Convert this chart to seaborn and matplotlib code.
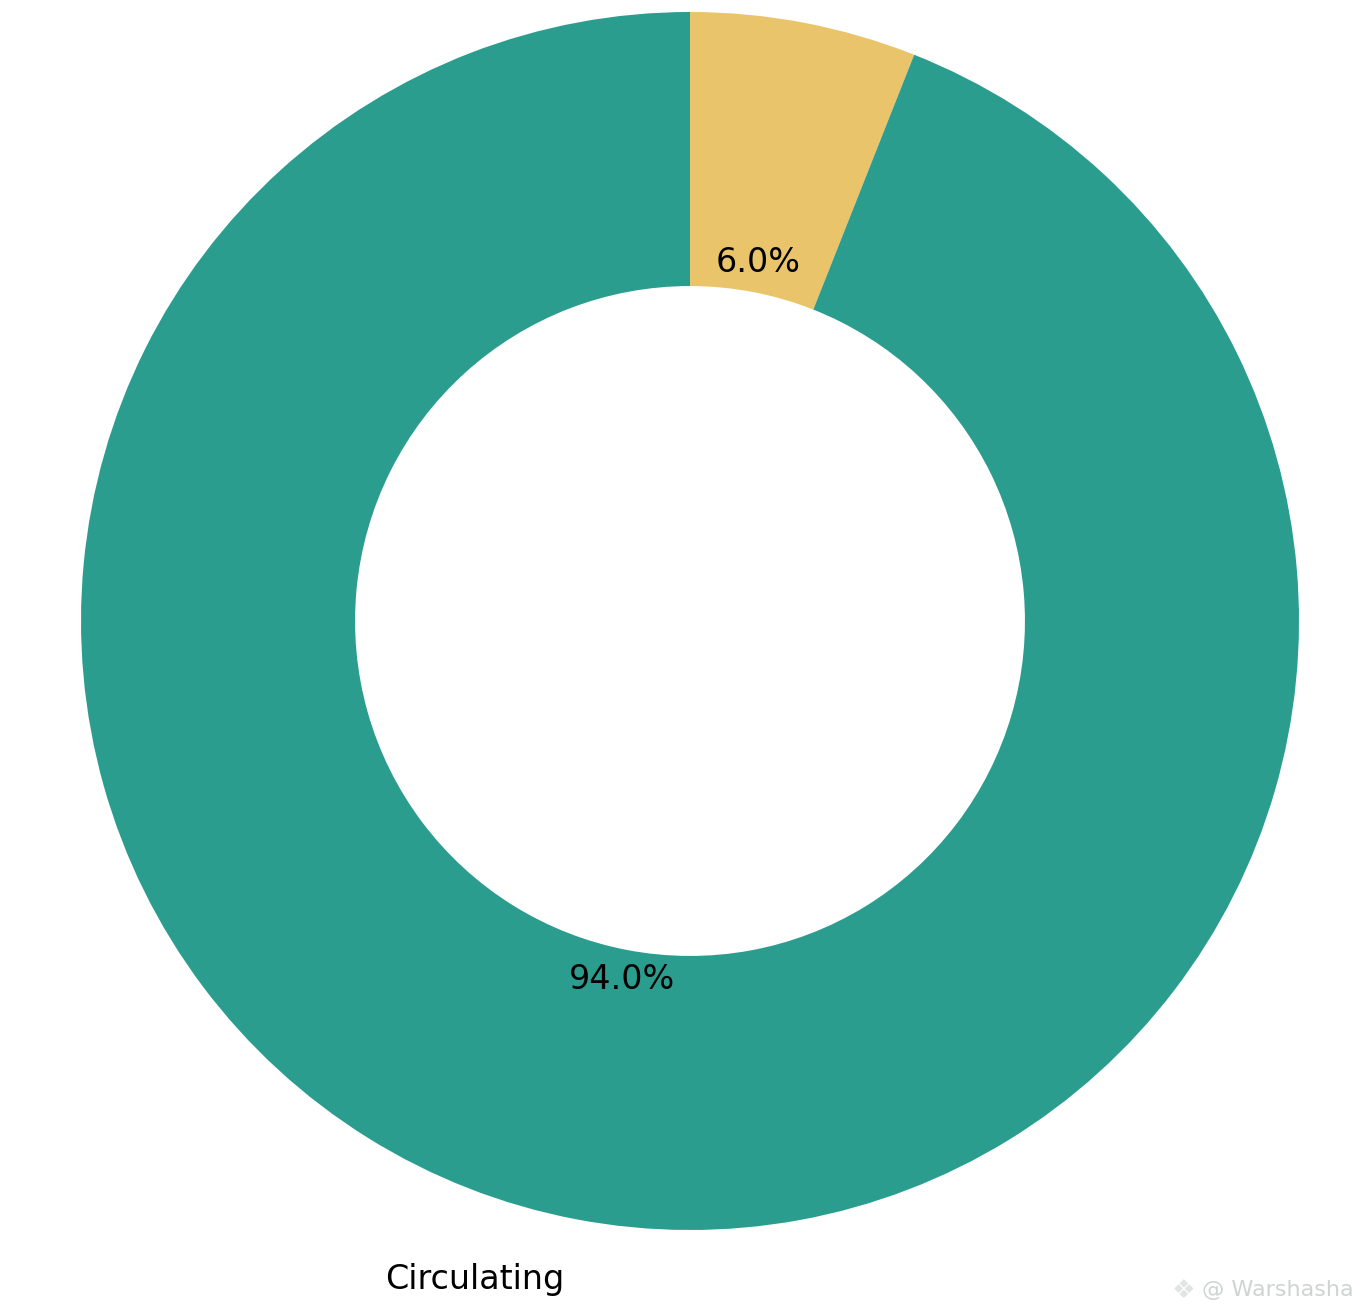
import matplotlib
matplotlib.use("Agg")
import matplotlib.pyplot as plt
import seaborn as sns

labels = ["", "Circulating"]
values = [6.0, 94.0]
colors = ["#E9C46A", "#2A9D8F"]

sns.set_theme(style="white")
plt.rcParams['font.family'] = ['DejaVu Sans']
W, H = 1361, 1315
fig = plt.figure(figsize=(W/100, H/100), dpi=100)
cx, cy, r = 690, 621, 609
ax = fig.add_axes([(cx-r)/W, 1-(cy+r)/H, 2*r/W, 2*r/H])
wedges, texts, autotexts = ax.pie(
    values, labels=labels, colors=colors, startangle=90, counterclock=False,
    autopct='%1.1f%%', pctdistance=0.6, labeldistance=1.1, radius=1,
    wedgeprops=dict(width=0.45, edgecolor='none'),
    textprops=dict(fontsize=24, color='black'))
ax.set_xlim(-1, 1)
ax.set_ylim(-1, 1)
for t in texts + autotexts:
    t.set_clip_on(False)
fig.text(1 - 7/W, 1-1290/H, "@ Warshasha", ha='right', va='center', fontsize=16, color='#cfd3d2')
fig.text(1184/W, 1-1291/H, "\u2756", ha='center', va='center', fontsize=19, color='#dfe5e3')
fig.savefig("out.png", dpi=100)
